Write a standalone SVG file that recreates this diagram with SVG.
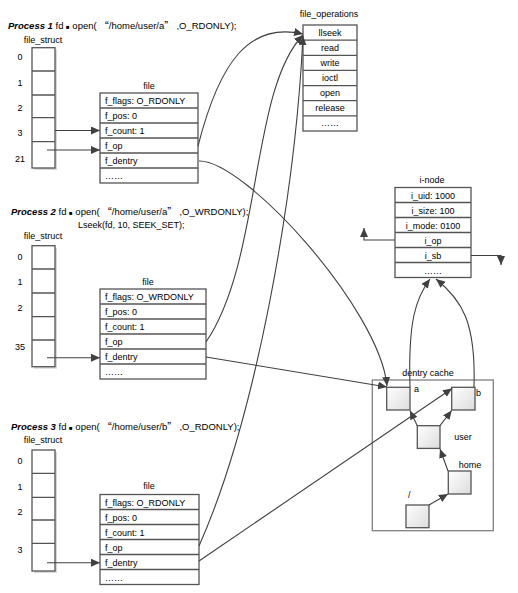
<svg xmlns="http://www.w3.org/2000/svg" width="518" height="593" viewBox="0 0 518 593">
<defs>
<marker id="ah" markerWidth="9" markerHeight="8" refX="9" refY="4" orient="auto" markerUnits="userSpaceOnUse">
<path d="M0,0 L9,4 L0,8 z" fill="#404040"/>
</marker>
<linearGradient id="g" x1="0" y1="0" x2="1" y2="1">
<stop offset="0" stop-color="#ffffff"/>
<stop offset="1" stop-color="#dcdcdc"/>
</linearGradient>
<style>
text{font-family:"Liberation Sans",Arial,sans-serif;font-size:9px;fill:#000}
.t{font-size:9.5px}
.b{font-weight:bold;font-style:italic}
.m{text-anchor:middle}
.box{fill:#fff;stroke:#555;stroke-width:1.3}
.sh{fill:#d8d8d8}
.ln{fill:none;stroke:#555;stroke-width:1.3}
.c{fill:none;stroke:#404040;stroke-width:1.1;marker-end:url(#ah)}
.dc{fill:url(#g);stroke:#555;stroke-width:1.3}
.q{font-family:"Noto Sans CJK SC",sans-serif}
</style>
</defs>
<rect width="518" height="593" fill="#fff"/>

<!-- Process 1 -->
<g id="process1">
<text x="8" y="29" class="t"><tspan class="b">Process 1</tspan> fd <tspan font-size="6">■</tspan> open( <tspan class="q">“</tspan>/home/user/a<tspan class="q">”</tspan> ,O_RDONLY);</text>
</g>
<g id="file_struct1">
<text x="43" y="43" class="m">file_struct</text>
<rect x="34" y="49.7" width="23" height="120.3" class="sh"/>
<rect x="32" y="47.7" width="23" height="120.3" class="box"/>
<path d="M32,71H55M32,95H55M32,117.7H55M32,141.7H55" class="ln"/>
<text x="20" y="60" class="m">0</text>
<text x="20" y="86" class="m">1</text>
<text x="20" y="111" class="m">2</text>
<text x="20" y="136" class="m">3</text>
<text x="20" y="162" class="m">21</text>
</g>
<g id="file1">
<text x="149" y="89" class="m">file</text>
<rect x="100" y="93" width="98" height="90" class="box"/>
<path d="M100,108H198M100,123H198M100,138H198M100,153H198M100,168H198" class="ln"/>
<text x="105" y="104">f_flags: O_RDONLY</text>
<text x="105" y="119">f_pos: 0</text>
<text x="105" y="134">f_count: 1</text>
<text x="105" y="149">f_op</text>
<text x="105" y="164">f_dentry</text>
<text x="105" y="179">……</text>
</g>

<!-- file_operations -->
<g id="file_operations">
<text x="329" y="17" class="m">file_operations</text>
<rect x="303" y="25" width="54" height="106" class="box"/>
<path d="M303,40.1H357M303,55.3H357M303,70.4H357M303,85.6H357M303,100.7H357M303,115.9H357" class="ln"/>
<text x="330" y="36" class="m">llseek</text>
<text x="330" y="51" class="m">read</text>
<text x="330" y="66" class="m">write</text>
<text x="330" y="81" class="m">ioctl</text>
<text x="330" y="96" class="m">open</text>
<text x="330" y="111" class="m">release</text>
<text x="330" y="126" class="m">……</text>
</g>

<!-- i-node -->
<g id="inode">
<text x="432" y="183" class="m">i-node</text>
<rect x="395" y="187.5" width="76" height="90" class="box"/>
<path d="M395,202.5H471M395,217.5H471M395,232.5H471M395,247.5H471M395,262.5H471" class="ln"/>
<text x="433" y="198.5" class="m">i_uid: 1000</text>
<text x="433" y="213.5" class="m">i_size: 100</text>
<text x="433" y="228.5" class="m">i_mode: 0100</text>
<text x="433" y="243.5" class="m">i_op</text>
<text x="433" y="258.5" class="m">i_sb</text>
<text x="433" y="273.5" class="m">……</text>
</g>

<!-- Process 2 -->
<g id="process2">
<text x="11" y="214.5" class="t"><tspan class="b">Process 2</tspan> fd <tspan font-size="6">■</tspan> open( <tspan class="q">“</tspan>/home/user/a<tspan class="q">”</tspan> ,O_WRDONLY);</text>
<text x="78" y="227.5">Lseek(fd, 10, SEEK_SET);</text>
</g>
<g id="file_struct2">
<text x="43" y="238.5" class="m">file_struct</text>
<rect x="34" y="247.7" width="23" height="121" class="sh"/>
<rect x="32" y="245.7" width="23" height="121" class="box"/>
<path d="M32,269H55M32,293H55M32,316.7H55M32,340H55" class="ln"/>
<text x="20" y="260" class="m">0</text>
<text x="20" y="285" class="m">1</text>
<text x="20" y="311" class="m">2</text>
<text x="20" y="350" class="m">35</text>
</g>
<g id="file2">
<text x="148" y="285" class="m">file</text>
<rect x="100" y="289" width="106" height="90" class="box"/>
<path d="M100,304H206M100,319H206M100,334H206M100,349H206M100,364H206" class="ln"/>
<text x="105" y="300">f_flags: O_WRDONLY</text>
<text x="105" y="315">f_pos: 0</text>
<text x="105" y="330">f_count: 1</text>
<text x="105" y="345">f_op</text>
<text x="105" y="360">f_dentry</text>
<text x="105" y="375">……</text>
</g>

<!-- Process 3 -->
<g id="process3">
<text x="11" y="430" class="t"><tspan class="b">Process 3</tspan> fd <tspan font-size="6">■</tspan> open( <tspan class="q">“</tspan>/home/user/b<tspan class="q">”</tspan> ,O_RDONLY);</text>
</g>
<g id="file_struct3">
<text x="43" y="442.5" class="m">file_struct</text>
<rect x="34" y="452" width="23" height="121" class="sh"/>
<rect x="32" y="450" width="23" height="121" class="box"/>
<path d="M32,473.3H55M32,497.3H55M32,520H55M32,543.3H55" class="ln"/>
<text x="20" y="464" class="m">0</text>
<text x="20" y="490" class="m">1</text>
<text x="20" y="515" class="m">2</text>
<text x="20" y="552.5" class="m">3</text>
</g>
<g id="file3">
<text x="149" y="489" class="m">file</text>
<rect x="100" y="494.5" width="99" height="90" class="box"/>
<path d="M100,509.5H199M100,524.5H199M100,539.5H199M100,554.5H199M100,569.5H199" class="ln"/>
<text x="105" y="505.5">f_flags: O_RDONLY</text>
<text x="105" y="520.5">f_pos: 0</text>
<text x="105" y="535.5">f_count: 1</text>
<text x="105" y="550.5">f_op</text>
<text x="105" y="565.5">f_dentry</text>
<text x="105" y="580.5">……</text>
</g>

<!-- dentry cache -->
<g id="dentry_cache">
<text x="428" y="376" class="m">dentry cache</text>
<rect x="372.3" y="380" width="121" height="150.7" fill="none" stroke="#808080" stroke-width="1.3"/>
</g>
<g id="dentry_a">
<rect x="386.7" y="387.3" width="23.3" height="22.7" class="dc"/>
<text x="414" y="391.5">a</text>
</g>
<g id="dentry_b">
<rect x="451.7" y="387.3" width="23.3" height="22.7" class="dc"/>
<text x="476" y="395.5">b</text>
</g>
<g id="dentry_user">
<rect x="417.3" y="425.7" width="22.7" height="22.7" class="dc"/>
<text x="463" y="440" class="m">user</text>
</g>
<g id="dentry_home">
<rect x="448.3" y="471" width="22.7" height="23" class="dc"/>
<text x="470" y="467.5" class="m">home</text>
</g>
<g id="dentry_root">
<rect x="406" y="505" width="23" height="22.7" class="dc"/>
<text x="408" y="497.5">/</text>
</g>

<!-- connectors -->
<g id="connectors">
<path d="M55,130.5H100" class="c"/>
<path d="M47,150H100" class="c"/>
<path d="M47,357.7H100" class="c"/>
<path d="M47,562.7H100" class="c"/>
<path d="M198,146 C220,60 250,22 303,34" class="c"/>
<path d="M206,342 C262,260 250,90 303,35" class="c"/>
<path d="M199,546 C255,420 295,200 303,36" class="c"/>
<path d="M199,161 C245,160 380,310 387,386" class="c"/>
<path d="M206,357 L387,387" class="c"/>
<path d="M199,561 L452,388.5" class="c"/>
<path d="M410,387 C408,320 416,298 430,279" class="c"/>
<path d="M474,387 C476,322 462,300 436,279" class="c"/>
<path d="M429,505 L448,494" class="c"/>
<path d="M448,471 L440,449" class="c"/>
<path d="M417.3,425.7 L410,410.5" class="c"/>
<path d="M440,425.7 L451.7,410.5" class="c"/>
<path d="M395,240H364V228" class="c"/>
<path d="M471,255.5H501V265" class="c"/>
</g>
</svg>
